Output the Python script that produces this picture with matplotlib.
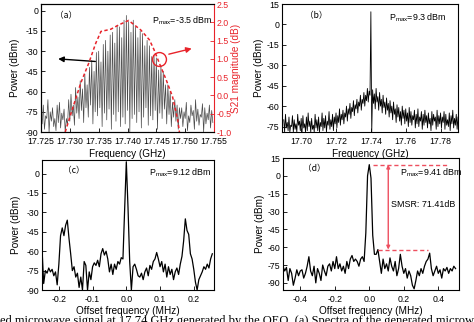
import numpy as np
import matplotlib
matplotlib.use("Agg")
import matplotlib.pyplot as plt
from matplotlib.ticker import MultipleLocator, FormatStrFormatter

SANS = ["Liberation Sans", "DejaVu Sans"]
plt.rcParams["font.family"] = SANS
plt.rcParams["axes.unicode_minus"] = False
plt.rcParams["mathtext.fontset"] = "custom"
plt.rcParams["mathtext.rm"] = "Liberation Sans"
plt.rcParams["mathtext.it"] = "Liberation Sans:italic"

# ---------------- (a) OEO free-running comb + filter response ----------------
a_start, a_step = 17.725, 0.0004          # GHz, comb tooth grid
a_tops = [-74, -70, -78, -66, -75, -72, -80, -70, -68, -76, -73, -80,
          -66, -62, -70, -57, -64, -52, -58, -47, -55, -42, -37, -45, -31,
          -30, -38, -25, -22, -30, -18, -16, -24, -11, -12, -20, -7, -3.5,
          -8, -16, -7, -12, -20, -15, -17, -26, -22, -26, -34, -33, -35,
          -44, -41, -45, -55, -55, -60, -68, -66, -70, -72,
          -72, -75, -68, -78, -70, -74, -66, -73, -77, -69, -72, -76, -70, -74]
a_floors = [-84, -88, -80, -90, -82, -86, -89, -83, -87, -81, -90, -85,
            -82, -78, -85, -76, -80, -74, -83, -72, -79, -70, -84, -75, -78,
            -72, -86, -76, -81, -73, -88, -77, -82, -75, -86, -79, -84, -74,
            -90, -80, -77, -83, -75, -87, -79, -72, -85, -78, -81, -74, -88,
            -76, -80, -73, -84, -77, -86, -79, -82, -88, -80,
            -86, -80, -89, -83, -78, -88, -82, -85, -79, -90, -84, -81, -87, -83]
s21_freq = [17.7292, 17.7304, 17.7319, 17.7333, 17.7345, 17.7354, 17.7371,
            17.7385, 17.7402, 17.7423, 17.7438, 17.7446, 17.7455, 17.7467,
            17.7478, 17.7487, 17.7490]
s21_mag = [-1.0, -0.39, 0.34, 0.89, 1.43, 1.75, 1.81, 1.93, 2.05, 1.79,
           1.52, 1.25, 0.89, 0.43, -0.03, -0.66, -1.0]
a_pmax = -3.5

# ---------------- (b) spectrum with wide span ----------------
b_start, b_step = 17.690, 0.001
b_tops = [-70, -66, -72, -68, -74, -67, -70, -73, -66, -71, -69,
          -67, -73, -68, -65, -71, -69, -74, -66, -70, -68,
          -72, -65, -69, -67, -71, -64, -70, -66, -68, -65,
          -67, -62, -66, -63, -65, -60, -62, -58, -61, -56,
          -59, -55, -57, -52, -55, -50, -52, -47, -49, 9.3,
          -48, -51, -47, -53, -50, -55, -52, -57, -54, -58,
          -56, -60, -57, -62, -59, -61, -64, -60, -63, -62,
          -65, -61, -64, -67, -63, -66, -62, -68, -64, -66,
          -63, -67, -65, -69, -64, -66, -68, -63, -67, -65,
          -68, -64, -66, -70, -65, -67, -63, -69, -66, -68]
b_floors = [-79, -76, -78, -79, -75, -79, -77, -79, -74, -78,
            -79, -76, -79, -78, -75, -79, -77, -79, -76, -78,
            -79, -75, -78, -76, -79, -74, -77, -75, -78, -73,
            -76, -72, -74, -70, -73, -68, -71, -66, -69, -64,
            -67, -62, -65, -60, -63, -58, -60, -56, -57, -52,
            -79, -58, -62, -57, -63, -60, -65, -61, -66, -63,
            -68, -65, -70, -66, -72, -68, -71, -74, -69, -73,
            -71, -75, -72, -74, -70, -76, -73, -75, -71, -77,
            -74, -72, -76, -73, -78, -74, -71, -77, -75, -73,
            -76, -72, -77, -74, -75, -78, -73, -76, -74, -77]
b_pmax = 9.3

# ---------------- (c) close-in spectrum ----------------
c_start, c_step = -0.25, 0.005            # MHz
c_vals = [-58, -85, -75, -77, -73, -76, -74, -79, -76, -86,
          -70, -48, -42, -48, -40, -36, -50, -62, -75, -72,
          -80, -77, -88, -80, -90, -68, -71, -90, -76, -82,
          -72, -69, -71, -67, -72, -62, -58, -63, -60, -66,
          -76, -70, -78, -70, -74, -68, -70, -65, -66, -28,
          9.12, -26, -68, -90, -72, -70, -74, -79, -80, -77,
          -82, -76, -73, -79, -71, -74, -68, -66, -61, -66,
          -72, -68, -76, -70, -80, -72, -78, -74, -82, -76,
          -73, -78, -70, -64, -52, -35, -44, -47, -62, -66,
          -74, -84, -90, -82, -79, -76, -72, -74, -70, -73,
          -66, -62]
c_pmax = 9.12

# ---------------- (d) close-in spectrum with side-mode suppression ----------------
d_start, d_step = -0.50, 0.01             # MHz
d_pmax = 9.41
d_smsr = 71.41
d_vals = [-76, -80, -77, -88, -78, -82, -92, -86, -79, -84,
          -80, -79, -86, -82, -76, -68, -80, -84, -76, -90,
          -78, -82, -88, -75, -80, -84, -76, -74, -80, -72,
          -78, -68, -78, -74, -80, -76, -82, -72, -78, -70,
          -67, -72, -70, -72, -76, -70, -68, -72, -48, 0,
          9.41, -2, -50, -66, -66, -62.0, -72, -82, -70, -78,
          -74, -80, -69, -76, -80, -72, -84, -78, -66, -76,
          -82, -78, -86, -80, -84, -92, -95, -88, -80, -84,
          -78, -82, -76, -72, -70, -65, -78, -84, -80, -76,
          -82, -79, -86, -78, -80, -77, -82, -78, -80, -76,
          -78]


def interleave(start, step, tops, floors):
    tops = np.asarray(tops, float)
    floors = np.asarray(floors, float)
    x = np.empty(len(tops) + len(floors))
    y = np.empty_like(x)
    x[0::2] = start + step * np.arange(len(tops))
    x[1::2] = start + step * (np.arange(len(floors)) + 0.5)
    y[0::2] = tops
    y[1::2] = floors
    return x, y


def grid(start, step, vals):
    return start + step * np.arange(len(vals)), np.asarray(vals, float)


def style(ax):
    ax.tick_params(direction="in", length=3, width=0.6, labelsize=6.3, pad=2)
    ax.tick_params(axis="x", pad=3.5)
    for s in ax.spines.values():
        s.set_linewidth(0.8)


W, H = 474, 322
fig = plt.figure(figsize=(W / 100, H / 100), dpi=100)


def add_axes(x0, y0, x1, y1):
    return fig.add_axes([x0 / W, 1 - y1 / H, (x1 - x0) / W, (y1 - y0) / H])


ax_a = add_axes(41, 4, 214, 132)
ax_b = add_axes(282, 4, 458, 132)
ax_c = add_axes(42, 160, 214, 290)
ax_d = add_axes(283, 158, 459, 290)

red = "#e8232a"
pmax_fmt = r"P$_{\mathrm{max}}$=%s dBm"
lab_fs = 7.2
ann_fs = 6.4
tag_kw = dict(fontsize=6.2, family=["Noto Sans CJK SC", "DejaVu Sans"],
              va="center")

# (a)
xa, ya = interleave(a_start, a_step, a_tops, a_floors)
ax_a.plot(xa, ya, color="#4a4a4a", lw=0.5)
ax_a.set_xlim(17.725, 17.755)
ax_a.set_ylim(-90, 5)
ax_a.xaxis.set_major_locator(MultipleLocator(0.005))
ax_a.xaxis.set_major_formatter(FormatStrFormatter("%.3f"))
ax_a.yaxis.set_major_locator(MultipleLocator(15))
ax_a.spines["right"].set_visible(False)
style(ax_a)
ax_a.set_xlabel("Frequency (GHz)", fontsize=lab_fs, labelpad=2)
ax_a.set_ylabel("Power (dBm)", fontsize=lab_fs)
ax_a.yaxis.set_label_coords(-0.12, 0.5)
ax_a.annotate("", xy=(17.7275, -35.6), xytext=(17.7349, -37.8),
              arrowprops=dict(arrowstyle="-|>", color="black", lw=1.0,
                              mutation_scale=8))
ax_a.text(0.08, 0.91, "（a）", transform=ax_a.transAxes, **tag_kw)
ax_a.text(0.64, 0.87, pmax_fmt % a_pmax, transform=ax_a.transAxes,
          fontsize=ann_fs, va="center")

ax_s = ax_a.twinx()
ax_s.plot(s21_freq, s21_mag, color=red, lw=1.1, ls=(0, (2.2, 1.6)))
ax_s.set_ylim(-1.0, 2.5)
ax_s.yaxis.set_major_locator(MultipleLocator(0.5))
ax_s.yaxis.set_major_formatter(FormatStrFormatter("%.1f"))
style(ax_s)
ax_s.spines["right"].set_color(red)
ax_s.tick_params(axis="y", colors=red)
ax_s.set_ylabel("S21 magnitude (dB)", color=red, fontsize=lab_fs)
ax_s.yaxis.set_label_coords(1.10, 0.5)
ax_s.plot([17.7455], [0.99], marker="o", ms=10, mfc="none", mec=red, mew=1.0)
ax_s.annotate("", xy=(17.7516, 1.30), xytext=(17.7467, 1.11),
              arrowprops=dict(arrowstyle="-|>", color=red, lw=1.0,
                              mutation_scale=8))

# (b)
xb, yb = interleave(b_start, b_step, b_tops, b_floors)
ax_b.plot(xb, yb, color="black", lw=0.6)
ax_b.set_xlim(17.689, 17.790)
ax_b.set_ylim(-79, 15)
ax_b.xaxis.set_major_locator(MultipleLocator(0.02))
ax_b.xaxis.set_major_formatter(FormatStrFormatter("%.2f"))
ax_b.yaxis.set_major_locator(MultipleLocator(15))
style(ax_b)
ax_b.set_xlabel("Frequency (GHz)", fontsize=lab_fs, labelpad=2)
ax_b.set_ylabel("Power (dBm)", fontsize=lab_fs)
ax_b.yaxis.set_label_coords(-0.10, 0.5)
ax_b.text(0.13, 0.91, "（b）", transform=ax_b.transAxes, **tag_kw)
ax_b.text(0.61, 0.895, pmax_fmt % b_pmax, transform=ax_b.transAxes,
          fontsize=ann_fs, va="center")

# (c)
xc, yc = grid(c_start, c_step, c_vals)
ax_c.plot(xc, yc, color="black", lw=0.9)
ax_c.set_xlim(-0.25, 0.26)
ax_c.set_ylim(-90, 10.5)
ax_c.xaxis.set_major_locator(MultipleLocator(0.1))
ax_c.xaxis.set_major_formatter(FormatStrFormatter("%.1f"))
ax_c.yaxis.set_major_locator(MultipleLocator(15))
style(ax_c)
ax_c.set_xlabel("Offset frequency (MHz)", fontsize=lab_fs, labelpad=1.5)
ax_c.set_ylabel("Power (dBm)", fontsize=lab_fs)
ax_c.yaxis.set_label_coords(-0.12, 0.5)
ax_c.text(0.12, 0.92, "（c）", transform=ax_c.transAxes, **tag_kw)
ax_c.text(0.62, 0.905, pmax_fmt % c_pmax, transform=ax_c.transAxes,
          fontsize=ann_fs, va="center")

# (d)
xd, yd = grid(d_start, d_step, d_vals)
ax_d.plot(xd, yd, color="black", lw=0.9)
ax_d.set_xlim(-0.5, 0.52)
ax_d.set_ylim(-96, 15)
ax_d.xaxis.set_major_locator(MultipleLocator(0.2))
ax_d.xaxis.set_major_formatter(FormatStrFormatter("%.1f"))
ax_d.yaxis.set_major_locator(MultipleLocator(15))
style(ax_d)
ax_d.set_xlabel("Offset frequency (MHz)", fontsize=lab_fs, labelpad=1.5)
ax_d.set_ylabel("Power (dBm)", fontsize=lab_fs)
ax_d.yaxis.set_label_coords(-0.10, 0.5)
ax_d.text(0.115, 0.92, "（d）", transform=ax_d.transAxes, **tag_kw)
side_level = d_pmax - d_smsr
smsr_red = "#ee4f5f"
ax_d.plot([0.02, 0.46], [d_pmax, d_pmax], color=smsr_red, lw=1.0, ls=(0, (3, 2)))
ax_d.plot([0.05, 0.34], [side_level, side_level], color=smsr_red, lw=1.0,
          ls=(0, (3, 2)))
ax_d.annotate("", xy=(0.11, side_level), xytext=(0.11, d_pmax),
              arrowprops=dict(arrowstyle="<|-|>", color=smsr_red, lw=1.0,
                              mutation_scale=5, shrinkA=0, shrinkB=0))
ax_d.text(0.665, 0.89, pmax_fmt % d_pmax, transform=ax_d.transAxes,
          fontsize=ann_fs, va="center")
ax_d.text(0.125, -24.5, "SMSR: %.2fdB" % d_smsr, fontsize=ann_fs, va="center")

# caption line running off the bottom edge
fig.text(0.0, 1 - 324.0 / H, "ed microwave signal at 17.74 GHz generated by the OEO. "
         "(a) Spectra of the generated microwave signal only",
         family=["Liberation Serif", "DejaVu Serif"], fontsize=9,
         va="baseline", ha="left")

fig.savefig("out.png", dpi=100)
